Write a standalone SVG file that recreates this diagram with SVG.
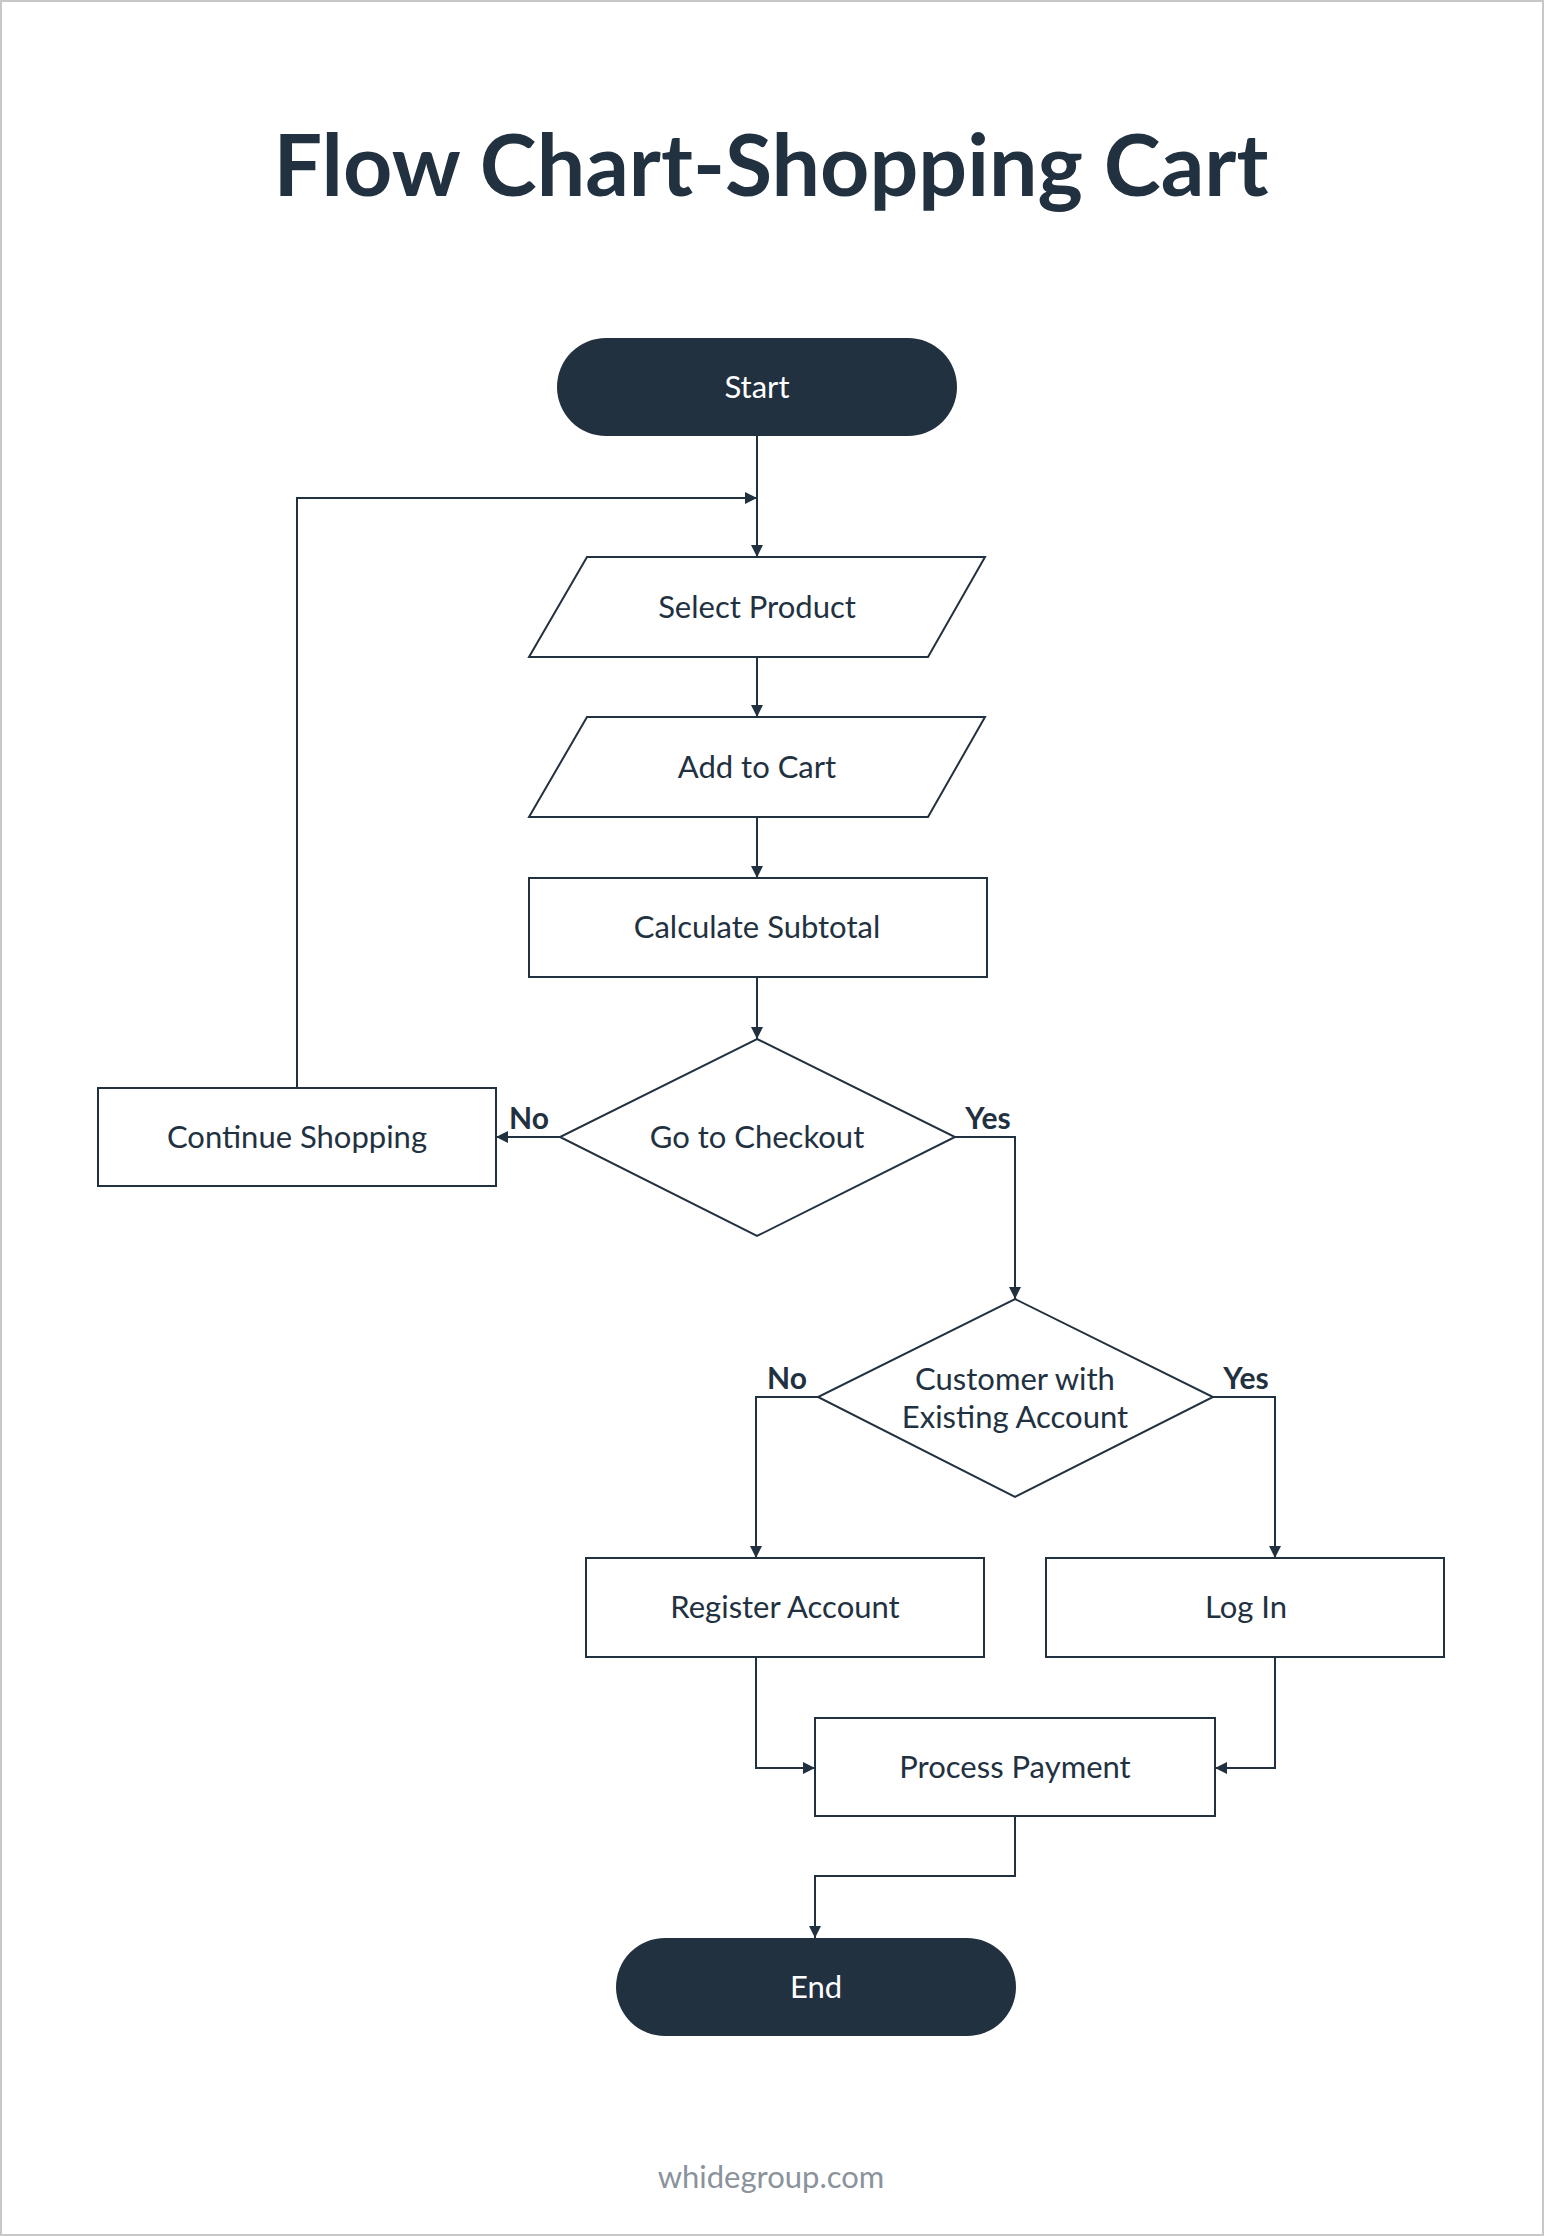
<svg xmlns="http://www.w3.org/2000/svg" width="1544" height="2236" viewBox="0 0 1544 2236">
<defs>
<style>
.n{fill:#fff;stroke:#22313f;stroke-width:2}
.t{fill:#22313f;stroke:none}
text{font-family:Lato,"Noto Sans",sans-serif;fill:#22313f;font-size:31px;text-anchor:middle;dominant-baseline:central}
.w{fill:#fff}
.lbl{font-weight:bold;font-size:30px}
.c{fill:none;stroke:#22313f;stroke-width:2;marker-end:url(#a)}
</style>
<marker id="a" viewBox="0 0 10 10" refX="10" refY="5" markerWidth="6" markerHeight="6" orient="auto"><path d="M0,0L10,5L0,10z" fill="#22313f"/></marker>
</defs>
<rect x="1" y="1" width="1542" height="2234" fill="#fff" stroke="#c8c8c8" stroke-width="2"/>
<text x="771" y="162" style="font-size:86px;font-weight:bold">Flow Chart-Shopping Cart</text>
<g id="connectors">
<path class="c" d="M757,436V557"/>
<path class="c" d="M297,1088V498H757"/>
<path class="c" d="M757,657V717"/>
<path class="c" d="M757,817V878"/>
<path class="c" d="M757,977V1039"/>
<path class="c" d="M560,1137H496"/>
<path class="c" d="M955,1137H1015V1299"/>
<path class="c" d="M818,1397H756V1558"/>
<path class="c" d="M1213,1397H1275V1558"/>
<path class="c" d="M756,1657V1768H815"/>
<path class="c" d="M1275,1657V1768H1215"/>
<path class="c" d="M1015,1816V1876H815V1938"/>
<text class="lbl" x="529" y="1117">No</text>
<text class="lbl" x="988" y="1117">Yes</text>
<text class="lbl" x="787" y="1377">No</text>
<text class="lbl" x="1246" y="1377">Yes</text>
</g>
<g id="start"><rect class="t" x="557" y="338" width="400" height="98" rx="49"/><text class="w" x="757" y="386">Start</text></g>
<g id="select"><path class="n" d="M587,557H985L928,657H529Z"/><text x="757" y="606">Select Product</text></g>
<g id="add"><path class="n" d="M587,717H985L928,817H529Z"/><text x="757" y="766">Add to Cart</text></g>
<g id="calc"><rect class="n" x="529" y="878" width="458" height="99"/><text x="757" y="926">Calculate Subtotal</text></g>
<g id="checkout"><path class="n" d="M757,1039L955,1137L757,1236L560,1137Z"/><text x="757" y="1136">Go to Checkout</text></g>
<g id="continue"><rect class="n" x="98" y="1088" width="398" height="98"/><text x="297" y="1136">Continue Shopping</text></g>
<g id="customer"><path class="n" d="M1015,1299L1213,1397L1015,1497L818,1397Z"/><text x="1015" y="1378">Customer with</text><text x="1015" y="1416">Existing Account</text></g>
<g id="register"><rect class="n" x="586" y="1558" width="398" height="99"/><text x="785" y="1606">Register Account</text></g>
<g id="login"><rect class="n" x="1046" y="1558" width="398" height="99"/><text x="1246" y="1606">Log In</text></g>
<g id="payment"><rect class="n" x="815" y="1718" width="400" height="98"/><text x="1015" y="1766">Process Payment</text></g>
<g id="end"><rect class="t" x="616" y="1938" width="400" height="98" rx="49"/><text class="w" x="816" y="1986">End</text></g>
<text x="771" y="2176" style="fill:#8a929c;font-size:31px">whidegroup.com</text>
</svg>
